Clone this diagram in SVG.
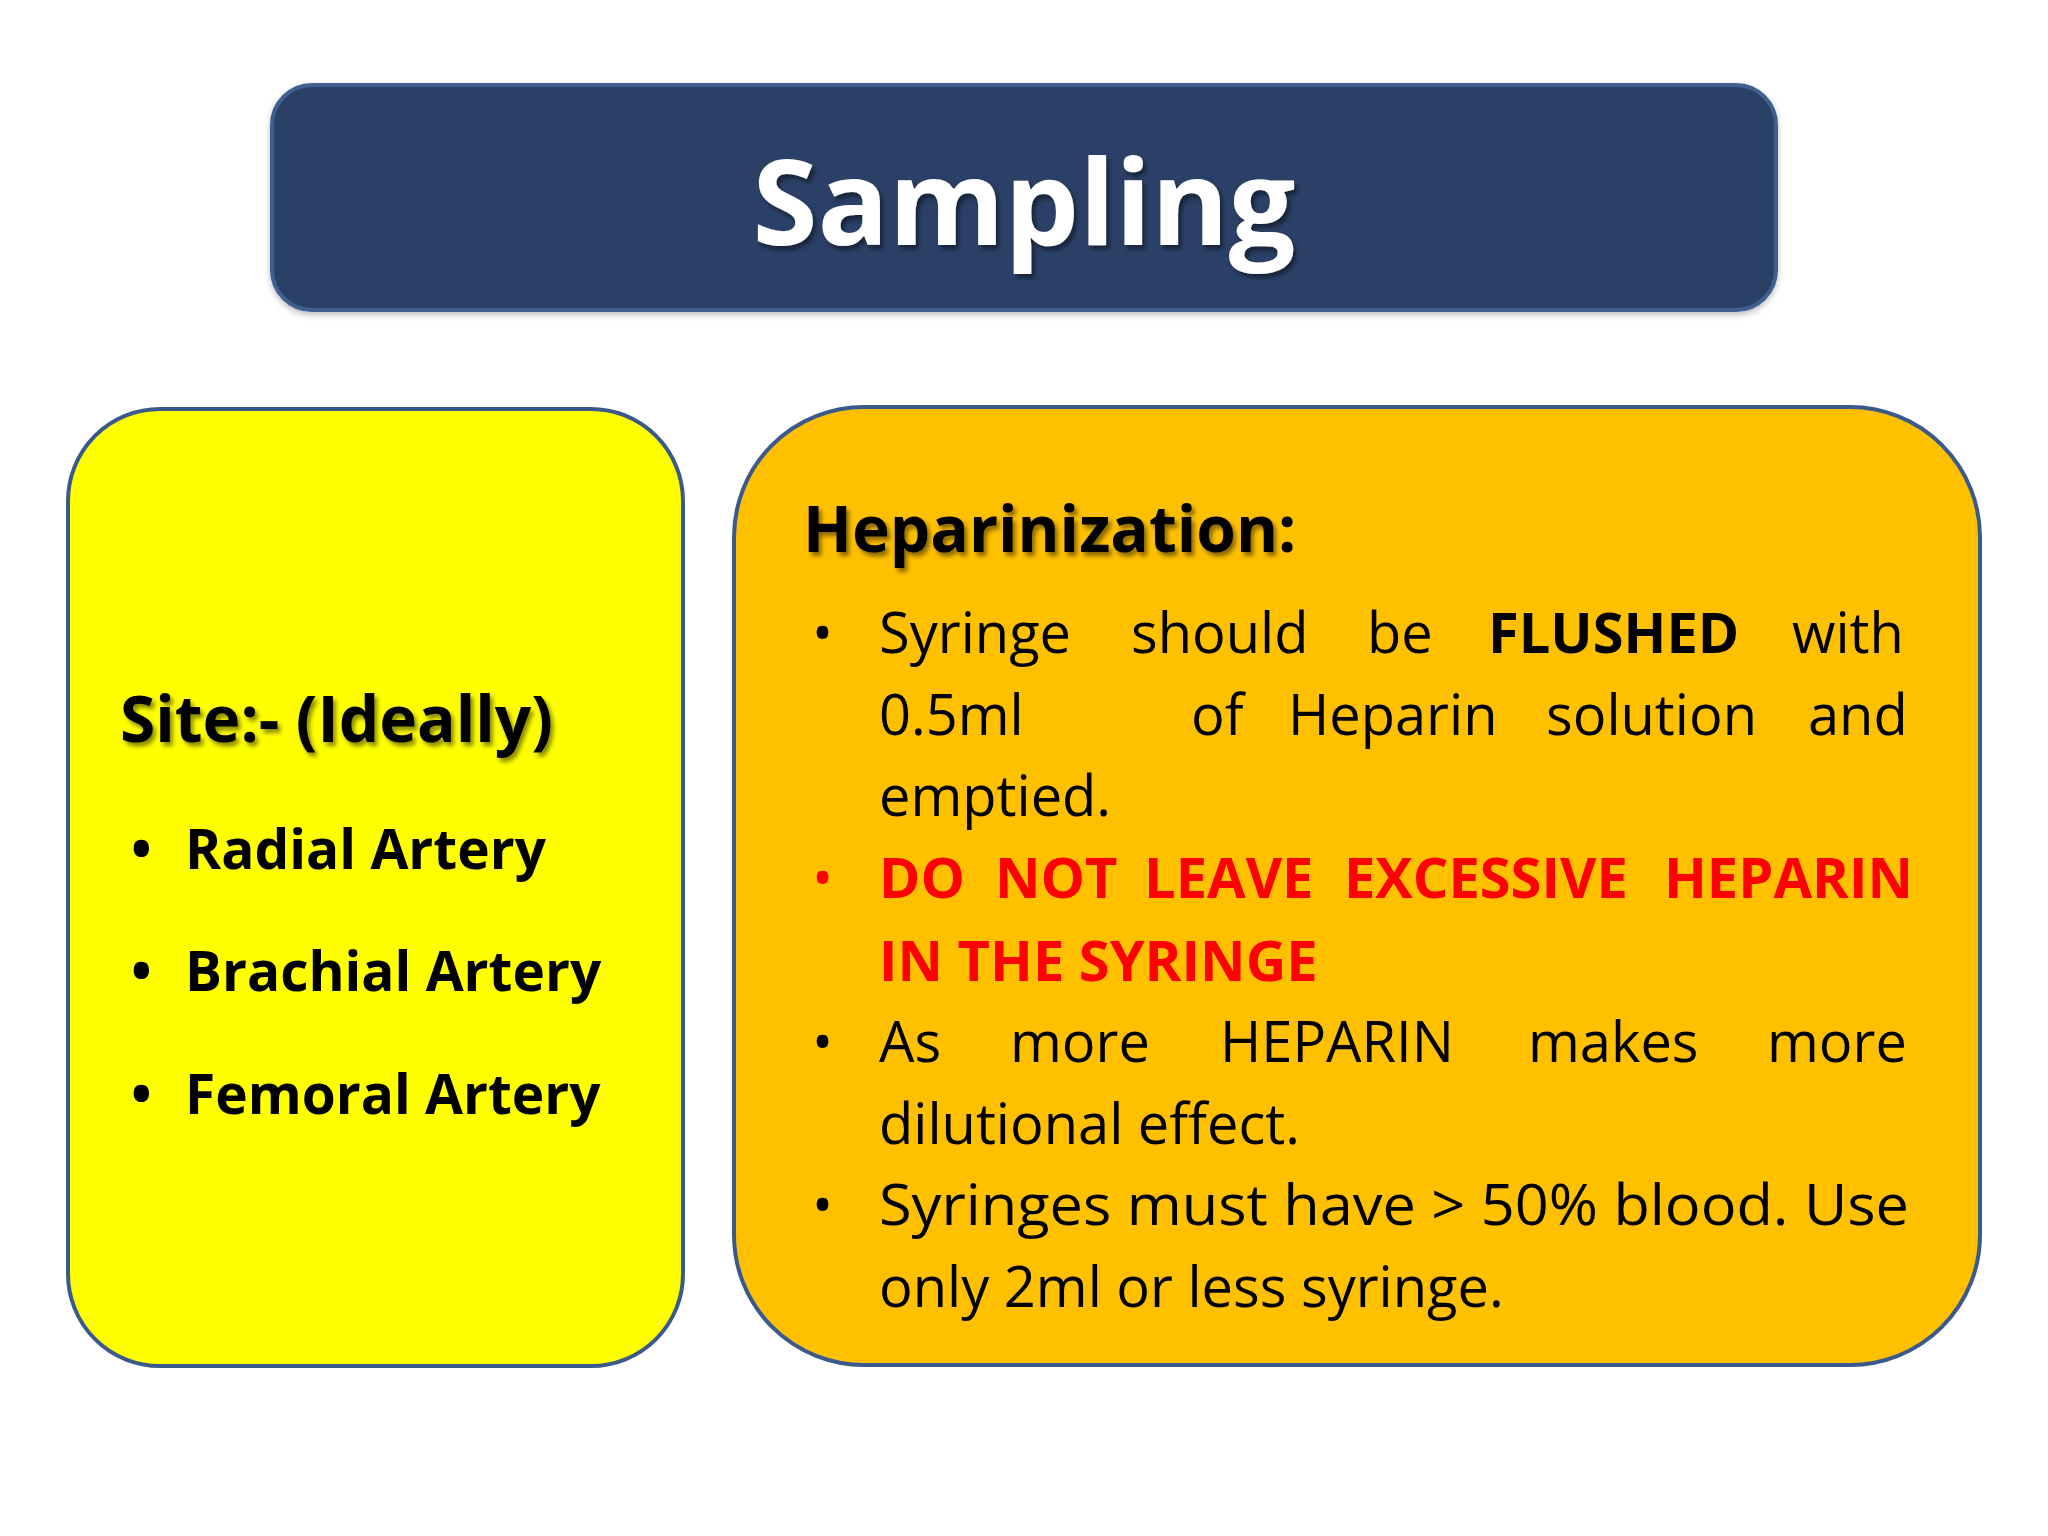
<svg xmlns="http://www.w3.org/2000/svg" width="2048" height="1536" viewBox="0 0 2048 1536">
<defs>
<filter id="sh" x="-10%" y="-10%" width="130%" height="130%"><feDropShadow dx="3" dy="4" stdDeviation="2" flood-color="#000" flood-opacity="0.45"/></filter>
<filter id="bs" x="-5%" y="-5%" width="110%" height="115%"><feDropShadow dx="0" dy="3" stdDeviation="3" flood-color="#000" flood-opacity="0.25"/></filter>
</defs>
<style>
text{font-family:"Open Sans","Liberation Sans",sans-serif;fill:#000}
.b{font-weight:bold}
.r{fill:#ff0000;font-weight:bold}
.t{font-size:56px}
.l{font-size:55px;font-weight:bold}
</style>
<rect width="2048" height="1536" fill="#fff"/>
<g id="title">
<rect x="272" y="85" width="1504" height="225" rx="40" fill="#2a4066" stroke="#3f5f91" stroke-width="4" filter="url(#bs)"/>
<text x="1024" y="245" text-anchor="middle" class="b" font-size="118" style="fill:#fff" filter="url(#sh)">Sampling</text>
</g>
<g id="site">
<rect x="68" y="409" width="615" height="957" rx="92" fill="#ffff00" stroke="#3a5a8c" stroke-width="4"/>
<text x="120" y="742" class="b" font-size="64" filter="url(#sh)">Site:- (Ideally)</text>
<text x="131" y="869" class="l">•</text><text x="185" y="869" class="l">Radial Artery</text>
<text x="131" y="991" class="l">•</text><text x="185" y="991" class="l">Brachial Artery</text>
<text x="131" y="1114" class="l">•</text><text x="185" y="1114" class="l">Femoral Artery</text>
</g>
<g id="heparin">
<rect x="734" y="407" width="1246" height="958" rx="130" fill="#ffc000" stroke="#3a5a8c" stroke-width="4"/>
<text x="803" y="552" class="b" font-size="64"><tspan filter="url(#sh)">Heparinization</tspan>:</text>
<g class="t">
<text x="812" y="653">•</text>
<text y="653"><tspan x="879">Syringe</tspan><tspan x="1131">should</tspan><tspan x="1367">be</tspan><tspan x="1488" class="b">FLUSHED</tspan><tspan x="1792">with</tspan></text>
<text y="735"><tspan x="879">0.5ml</tspan><tspan x="1191">of</tspan><tspan x="1288">Heparin</tspan><tspan x="1546">solution</tspan><tspan x="1808">and</tspan></text>
<text x="879" y="816">emptied.</text>
<text x="812" y="898" style="fill:#ff0000">•</text>
<text y="898" class="r"><tspan x="879">DO</tspan><tspan x="995">NOT</tspan><tspan x="1144">LEAVE</tspan><tspan x="1344">EXCESSIVE</tspan><tspan x="1664">HEPARIN</tspan></text>
<text x="879" y="981" class="r">IN THE SYRINGE</text>
<text x="812" y="1062">•</text>
<text y="1062"><tspan x="879">As</tspan><tspan x="1010">more</tspan><tspan x="1220">HEPARIN</tspan><tspan x="1528">makes</tspan><tspan x="1767">more</tspan></text>
<text x="879" y="1144">dilutional effect.</text>
<text x="812" y="1225">•</text>
<text x="879" y="1225" textLength="1030" lengthAdjust="spacingAndGlyphs">Syringes must have &gt; 50% blood. Use</text>
<text x="879" y="1307">only 2ml or less syringe.</text>
</g>
</g>
</svg>
